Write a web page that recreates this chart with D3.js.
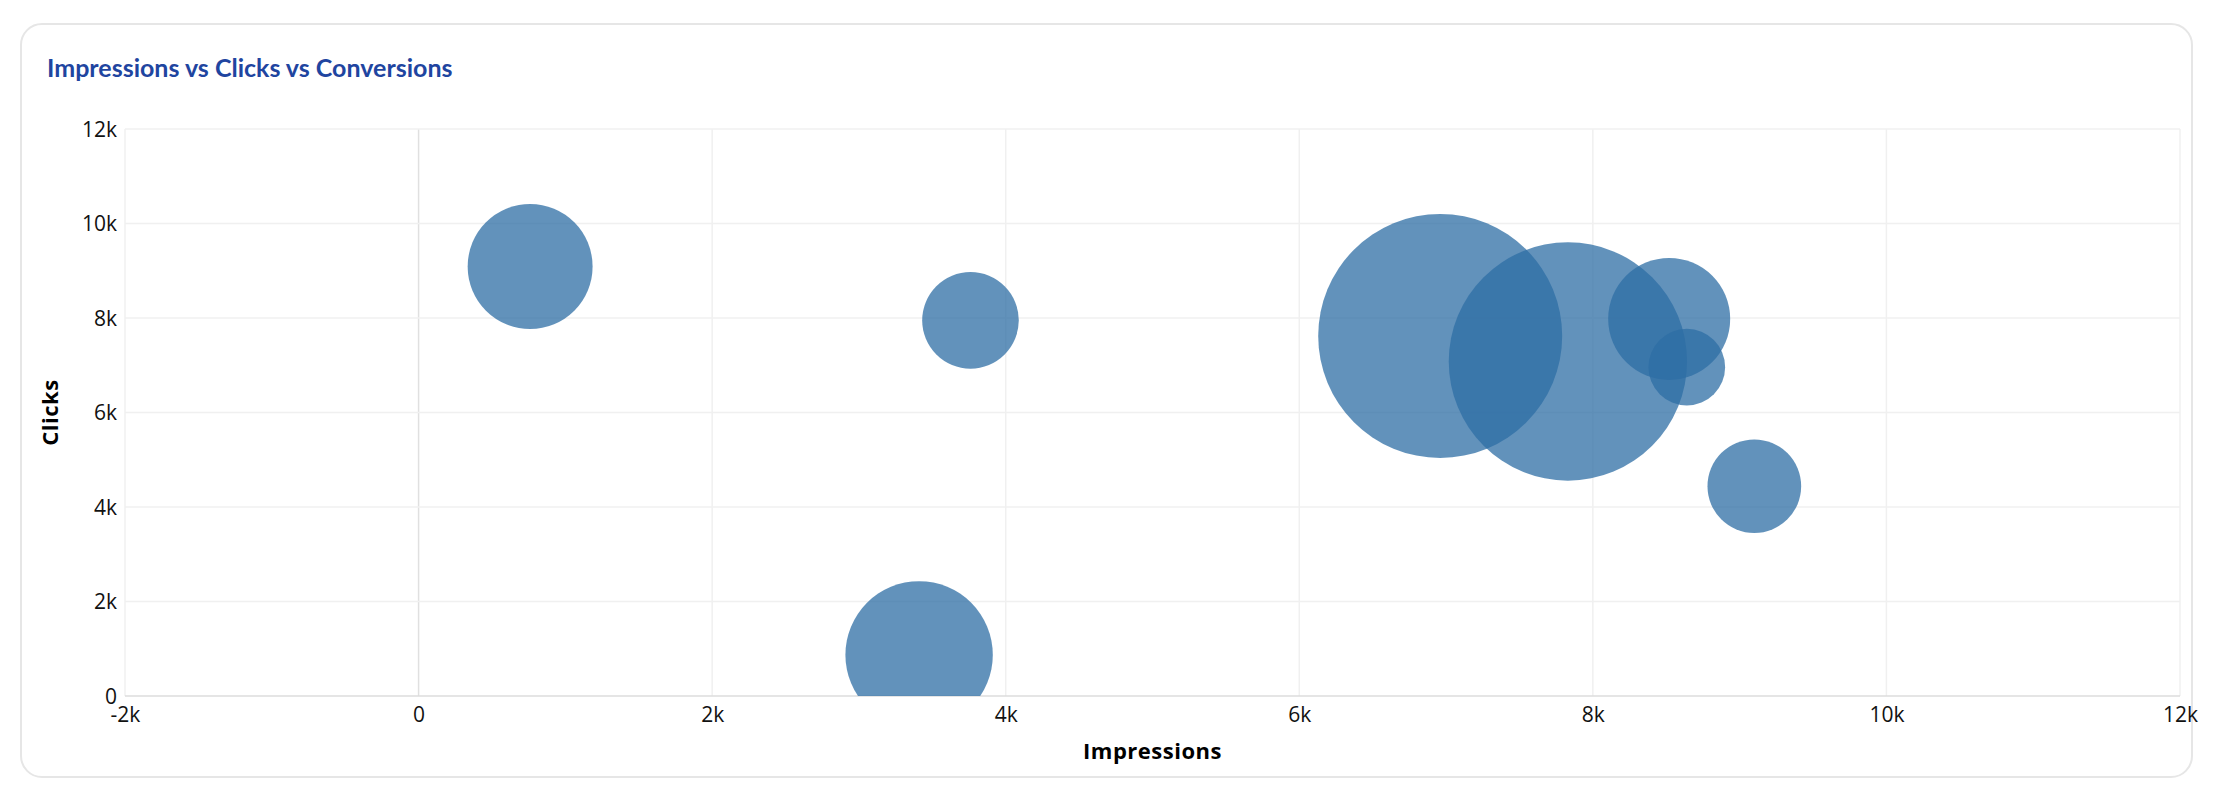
<!DOCTYPE html>
<html><head><meta charset="utf-8">
<script src="https://cdn.jsdelivr.net/npm/d3@7"></script>
<style>
body{margin:0;background:#fff;font-family:"Open Sans",sans-serif;}
.card{position:absolute;left:20px;top:23px;width:2173px;height:755px;border:2px solid #e6e6e6;border-radius:22px;box-sizing:border-box;}
</style></head>
<body>
<div class="card"></div>
<svg id="chart" width="2224" height="804" style="position:absolute;left:0;top:0"></svg>
<script>
// data
var impressions = [760, 3760, 3410, 6960, 7830, 8520, 8640, 9100];
var clicks      = [9090, 7950, 870, 7620, 7080, 7980, 6960, 4440];
var conversions = [194, 116, 270, 740, 706, 185, 73, 109];
var xTicks = [-2000, 0, 2000, 4000, 6000, 8000, 10000, 12000];
var yTicks = [0, 2000, 4000, 6000, 8000, 10000, 12000];

var svg = d3.select("#chart");
var pLeft = 125, pRight = 2180, pTop = 129, pBottom = 696;

var x = d3.scaleLinear().domain([-2000, 12000]).range([pLeft, pRight]);
var y = d3.scaleLinear().domain([0, 12000]).range([pBottom, pTop]);
var r = d3.scaleSqrt().domain([0, 740]).range([0, 122]);
var fmt = function(d) { return d == 0 ? "0" : (d / 1000) + "k"; };

// title
svg.append("text").attr("x", 47).attr("y", 77)
	.style("font-family", "Lato").style("font-weight", "bold")
	.style("font-size", "25px").style("fill", "#1f45a0")
	.text("Impressions vs Clicks vs Conversions");

// grid
svg.append("g").selectAll("line").data(xTicks).enter().append("line")
	.attr("x1", x).attr("x2", x).attr("y1", pTop).attr("y2", pBottom)
	.style("stroke", function(d) { return d == 0 ? "#e0e0e0" : "#f0f0f0"; }).style("stroke-width", 1.5);
svg.append("g").selectAll("line").data(yTicks).enter().append("line")
	.attr("x1", pLeft).attr("x2", pRight).attr("y1", y).attr("y2", y)
	.style("stroke", function(d) { return d == 0 ? "#dcdcdc" : "#f0f0f0"; }).style("stroke-width", 1.5);

// axes
var xAxis = svg.append("g").attr("transform", "translate(0," + pBottom + ")")
	.call(d3.axisBottom(x).tickValues(xTicks).tickFormat(fmt).tickSize(0).tickPadding(10));
var yAxis = svg.append("g").attr("transform", "translate(" + pLeft + ",0)")
	.call(d3.axisLeft(y).tickValues(yTicks).tickFormat(fmt).tickSize(0).tickPadding(8));
[xAxis, yAxis].forEach(function(a) {
	a.select(".domain").remove();
	a.selectAll("text").style("font-family", "Open Sans").style("font-size", "21px").style("fill", "#111");
});
xAxis.selectAll("text").attr("dy", "0.75em");
yAxis.selectAll("text").attr("dy", "0.35em");

// axis labels
svg.append("text").attr("x", (pLeft + pRight) / 2).attr("y", 759).attr("text-anchor", "middle")
	.style("font-family", "Open Sans").style("font-weight", "bold").style("font-size", "22px")
	.style("letter-spacing", "0.5px").text("Impressions");
svg.append("text").attr("transform", "translate(58," + (pTop + pBottom) / 2 + ") rotate(-90)")
	.attr("text-anchor", "middle")
	.style("font-family", "Open Sans").style("font-weight", "bold").style("font-size", "22px")
	.style("letter-spacing", "0.5px").text("Clicks");

// bubbles (clipped at the x axis)
svg.append("defs").append("clipPath").attr("id", "clip").append("rect")
	.attr("x", pLeft).attr("y", 0).attr("width", pRight - pLeft + 40).attr("height", pBottom);
svg.append("g").attr("clip-path", "url(#clip)").selectAll("circle").data(impressions).enter().append("circle")
	.attr("cx", function(d) { return x(d); })
	.attr("cy", function(d, i) { return y(clicks[i]); })
	.attr("r", function(d, i) { return r(conversions[i]); })
	.style("fill", "#2e6da4").style("fill-opacity", 0.75);
</script>
</body></html>
